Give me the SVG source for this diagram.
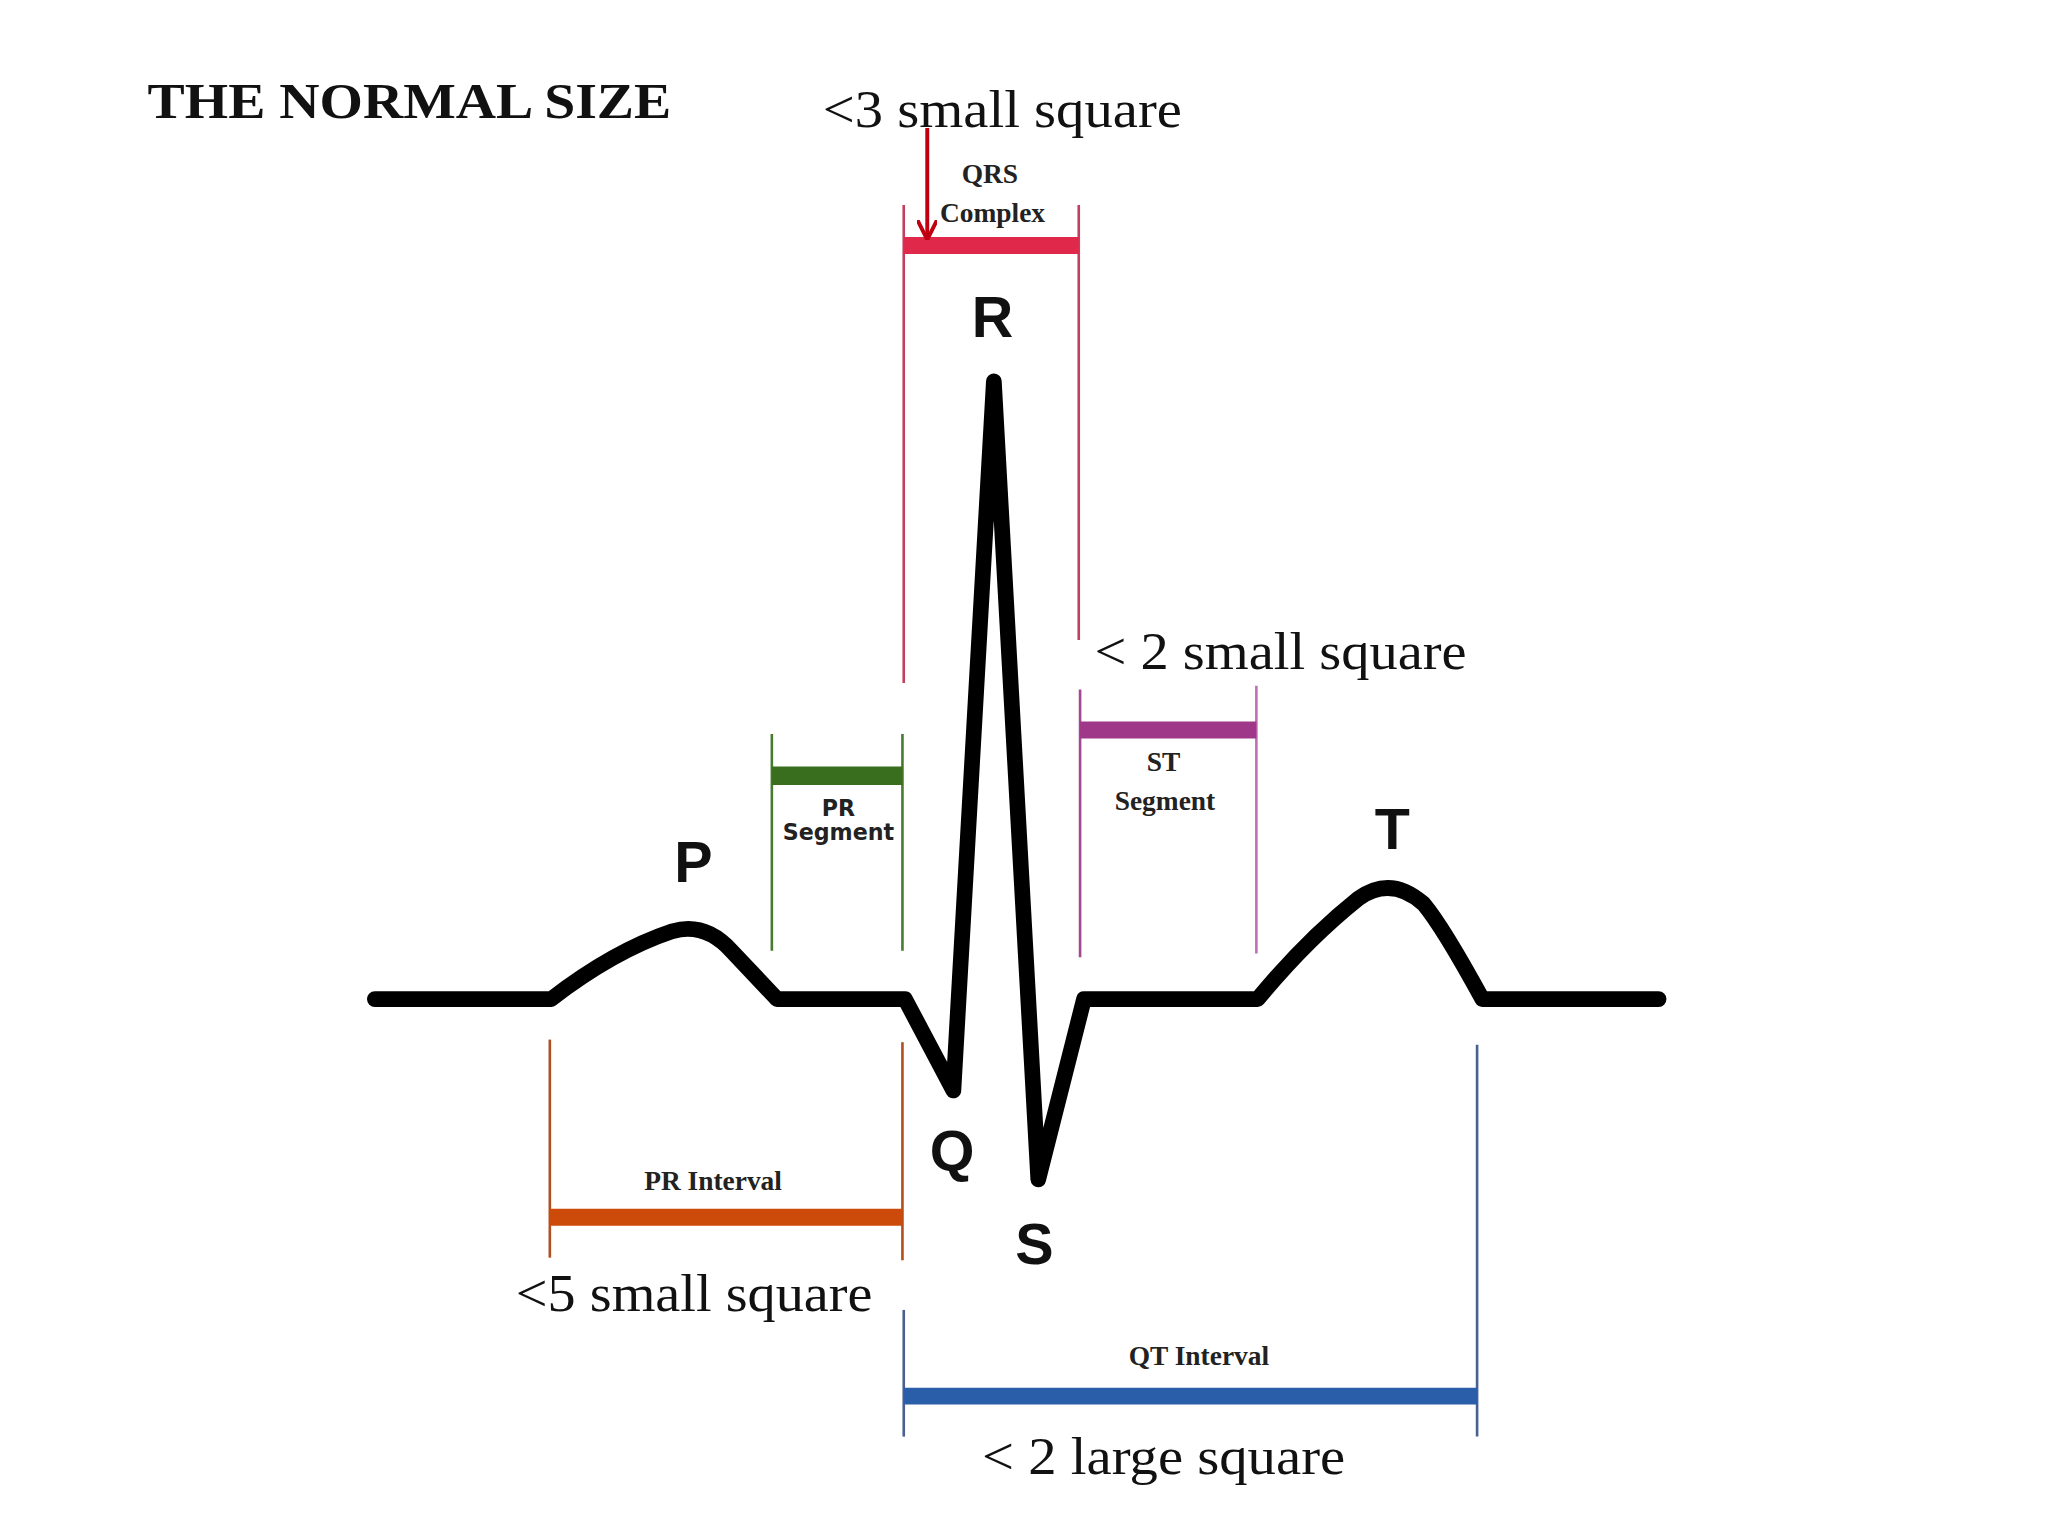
<svg xmlns="http://www.w3.org/2000/svg" width="2048" height="1536" viewBox="0 0 2048 1536">
<style>
.big{font-family:"Liberation Serif",serif;font-size:40px;fill:#111}
.lbl{font-family:"Liberation Serif",serif;font-size:21px;font-weight:bold;fill:#222;text-anchor:middle}
.wave{font-family:"Liberation Sans",sans-serif;font-size:44px;font-weight:bold;fill:#111;text-anchor:middle}
.thin{stroke-width:2;fill:none}
</style>
<defs><marker id="ah" viewBox="0 0 10 10" refX="9" refY="5" markerWidth="5" markerHeight="5" orient="auto"><path d="M0,0 L10,5 L0,10" fill="none" stroke="#c00010" stroke-width="2"/></marker></defs>
<rect width="2048" height="1536" fill="#fff"/>
<g transform="scale(1.306)">
<text x="113" y="90" textLength="401" lengthAdjust="spacingAndGlyphs" style="font-family:'Liberation Serif',serif;font-size:38px;font-weight:bold;fill:#111">THE NORMAL SIZE</text>
<g id="ecg"><path d="M287,765 L422,765 Q470,728 515,713 Q540,706 560,728 L595,765 L693,765 L730,835 L761,292 L795,903 L830,765 L963,765 Q1000,720 1040,688 Q1065,670 1090,692 Q1105,710 1135,765 L1270,765" fill="none" stroke="#000" stroke-width="12" stroke-linejoin="round" stroke-linecap="round"/></g>
<g id="qrs">
<line x1="692" y1="157" x2="692" y2="523" stroke="#c04060" class="thin"/>
<line x1="826" y1="157" x2="826" y2="490" stroke="#c04060" class="thin"/>
<line x1="692" y1="188" x2="826" y2="188" stroke="#e0284a" stroke-width="13"/>
<text x="758" y="140" class="lbl">QRS</text><text x="760" y="170" class="lbl">Complex</text>
</g>
<g id="prseg">
<line x1="591" y1="562" x2="591" y2="728" stroke="#4a7a30" class="thin"/>
<line x1="691" y1="562" x2="691" y2="728" stroke="#4a7a30" class="thin"/>
<line x1="591" y1="594" x2="691" y2="594" stroke="#3a6e1f" stroke-width="14"/>
<text x="642" y="625" class="lbl" style="font-family:'DejaVu Sans',sans-serif;font-size:17px">PR</text>
<text x="642" y="643" class="lbl" style="font-family:'DejaVu Sans',sans-serif;font-size:17px">Segment</text>
</g>
<g id="stseg">
<line x1="827" y1="528" x2="827" y2="733" stroke="#a04890" class="thin"/>
<line x1="962" y1="525" x2="962" y2="730" stroke="#c070b0" class="thin"/>
<line x1="827" y1="559" x2="962" y2="559" stroke="#a0388a" stroke-width="13"/>
<text x="891" y="590" class="lbl">ST</text><text x="892" y="620" class="lbl">Segment</text>
</g>
<g id="print">
<line x1="421" y1="796" x2="421" y2="963" stroke="#b05020" class="thin"/>
<line x1="691" y1="798" x2="691" y2="965" stroke="#b05020" class="thin"/>
<line x1="421" y1="932" x2="691" y2="932" stroke="#cc4a0a" stroke-width="13"/>
<text x="546" y="911" class="lbl">PR Interval</text>
</g>
<g id="qt">
<line x1="692" y1="1003" x2="692" y2="1100" stroke="#4a6090" class="thin"/>
<line x1="1131" y1="800" x2="1131" y2="1100" stroke="#4a6090" class="thin"/>
<line x1="692" y1="1069" x2="1131" y2="1069" stroke="#2a5ea8" stroke-width="13"/>
<text x="918" y="1045" class="lbl">QT Interval</text>
</g>
<g id="labels">
<text x="760" y="258" class="wave">R</text>
<text x="531" y="675" class="wave">P</text>
<text x="1066" y="650" class="wave">T</text>
<text x="729" y="897" class="wave">Q</text>
<text x="792" y="968" class="wave">S</text>
<text x="630" y="97" class="big" textLength="275" lengthAdjust="spacingAndGlyphs">&lt;3 small square</text>
<text x="838" y="512" class="big" textLength="285" lengthAdjust="spacingAndGlyphs">&lt; 2 small square</text>
<text x="395" y="1004" class="big" textLength="273" lengthAdjust="spacingAndGlyphs">&lt;5 small square</text>
<text x="752" y="1129" class="big" textLength="278" lengthAdjust="spacingAndGlyphs">&lt; 2 large square</text>
</g>
<g id="connectors"><line x1="710" y1="98" x2="710" y2="182" stroke="#c00010" stroke-width="3" marker-end="url(#ah)"/></g>
</g>
</svg>
